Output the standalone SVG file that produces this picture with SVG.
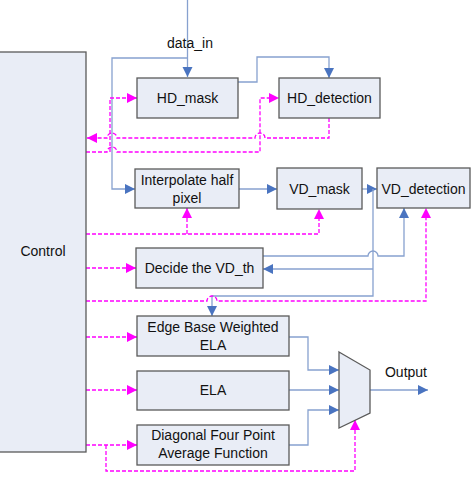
<svg xmlns="http://www.w3.org/2000/svg" width="474" height="477" viewBox="0 0 474 477">
<style>
.box{fill:#e9edf6;stroke:#5a5a5a;stroke-width:1.3}
.t{font-family:"Liberation Sans",Arial,sans-serif;font-size:14px;fill:#111;text-anchor:middle}
.b{fill:none;stroke:#87a1cf;stroke-width:1.3}
.m{fill:none;stroke:#ff00ff;stroke-width:1.3;stroke-dasharray:4,2}
</style>
<defs>
<marker id="ab" markerUnits="userSpaceOnUse" markerWidth="12" markerHeight="12" refX="10" refY="5" orient="auto"><path d="M0,0 L10,5 L0,10 Z" fill="#4a74c0"/></marker>
<marker id="am" markerUnits="userSpaceOnUse" markerWidth="12" markerHeight="12" refX="10" refY="5" orient="auto"><path d="M0,0 L10,5 L0,10 Z" fill="#ff00ff"/></marker>
</defs>
<rect width="474" height="477" fill="#fff"/>
<g id="connectors">
<path class="b" d="M187.5,0 V77" marker-end="url(#ab)"/>
<path class="b" d="M187.5,58 H112 V189 H135" marker-end="url(#ab)"/>
<path class="b" d="M238,82 H257 V57 H329 V78" marker-end="url(#ab)"/>
<path class="b" d="M239,189 H277" marker-end="url(#ab)"/>
<path class="b" d="M362,189 H377" marker-end="url(#ab)"/>
<path class="b" d="M373,189 V296 H212 V316" marker-end="url(#ab)"/>
<path class="b" d="M373,269 H263" marker-end="url(#ab)"/>
<path class="b" d="M263,256 H368 a5,5 0 0 1 10,0 H404 V208" marker-end="url(#ab)"/>
<path class="b" d="M289,337 H308 V370 H339" marker-end="url(#ab)"/>
<path class="b" d="M289,390 H339" marker-end="url(#ab)"/>
<path class="b" d="M289,445 H308 V410 H339" marker-end="url(#ab)"/>
<path class="b" d="M370,390 H428" marker-end="url(#ab)"/>
<path class="m" d="M86,152 H107 a5,5 0 0 1 10,0 H260 V98 H279" marker-end="url(#am)"/>
<path class="m" d="M110,152 V98 H137" marker-end="url(#am)"/>
<path class="m" d="M329,118 V138 H265 a5,5 0 0 0 -10,0 H117 a5,5 0 0 0 -10,0 H87" marker-end="url(#am)"/>
<path class="m" d="M86,234 H319 V209" marker-end="url(#am)"/>
<path class="m" d="M187,234 V208" marker-end="url(#am)"/>
<path class="m" d="M86,268 H136" marker-end="url(#am)"/>
<path class="m" d="M86,301 H207 a5,5 0 0 1 10,0 H426 V208" marker-end="url(#am)"/>
<path class="m" d="M86,337 H137" marker-end="url(#am)"/>
<path class="m" d="M86,390 H137" marker-end="url(#am)"/>
<path class="m" d="M86,445 H137" marker-end="url(#am)"/>
<path class="m" d="M106,445 V471 H355 V420" marker-end="url(#am)"/>
</g>
<text class="t" x="190" y="48">data_in</text>
<g id="control"><rect class="box" x="-1" y="52" width="87" height="400"/><text class="t" x="43" y="256">Control</text></g>
<g id="hd_mask"><rect class="box" x="137" y="78" width="101" height="40"/><text class="t" x="187.5" y="103">HD_mask</text></g>
<g id="hd_detection"><rect class="box" x="279" y="78" width="101" height="40"/><text class="t" x="329.5" y="103">HD_detection</text></g>
<g id="interpolate"><rect class="box" x="135" y="169" width="104" height="39"/><text class="t" x="187" y="185">Interpolate half</text><text class="t" x="187" y="203">pixel</text></g>
<g id="vd_mask"><rect class="box" x="277" y="168" width="85" height="41"/><text class="t" x="319.5" y="194">VD_mask</text></g>
<g id="vd_detection"><rect class="box" x="377" y="168" width="93" height="40"/><text class="t" x="423.5" y="194">VD_detection</text></g>
<g id="decide"><rect class="box" x="136" y="248" width="127" height="40"/><text class="t" x="199.5" y="273">Decide the VD_th</text></g>
<g id="edge_ela"><rect class="box" x="137" y="316" width="152" height="40"/><text class="t" x="213" y="332">Edge Base Weighted</text><text class="t" x="213" y="350">ELA</text></g>
<g id="ela"><rect class="box" x="137" y="371" width="152" height="39"/><text class="t" x="213" y="395">ELA</text></g>
<g id="diagonal"><rect class="box" x="137" y="425" width="152" height="40"/><text class="t" x="213" y="440">Diagonal Four Point</text><text class="t" x="213" y="458">Average Function</text></g>
<g id="mux"><polygon class="box" points="339,352 370,370 370,413 339,428"/></g>
<text class="t" x="406" y="377">Output</text>
</svg>
